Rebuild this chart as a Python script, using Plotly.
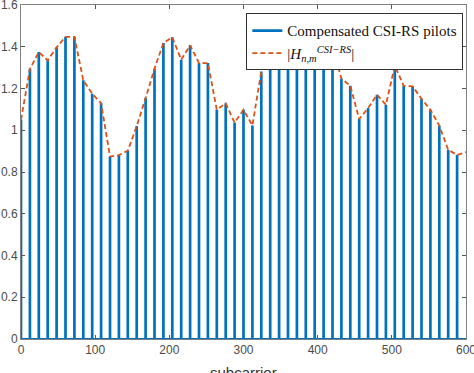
import plotly.graph_objects as go

subcarriers = list(range(0, 600, 12))
pilot_values = [1.05, 1.293, 1.375, 1.335, 1.397, 1.447, 1.447, 1.239, 1.175, 1.13,
                0.874, 0.881, 0.902, 1.02, 1.154, 1.295, 1.418, 1.445, 1.338, 1.407,
                1.322, 1.322, 1.098, 1.129, 1.037, 1.098, 1.023, 1.282, 1.375, 1.43,
                1.44, 1.43, 1.42, 1.44, 1.43, 1.40, 1.247, 1.213, 1.054, 1.106,
                1.17, 1.122, 1.309, 1.213, 1.21, 1.151, 1.098, 1.022, 0.906, 0.882]
channel_x = list(range(0, 601, 12))
channel_values = pilot_values + [0.895]

x_ticks = [0, 100, 200, 300, 400, 500, 600]
y_ticks = [0, 0.2, 0.4, 0.6, 0.8, 1, 1.2, 1.4, 1.6]
y_tick_labels = ["0", "0.2", "0.4", "0.6", "0.8", "1", "1.2", "1.4", "1.6"]

stem_x, stem_y = [], []
for xv, yv in zip(subcarriers, pilot_values):
    stem_x += [xv, xv, None]
    stem_y += [0, yv, None]

fig = go.Figure()
fig.add_trace(go.Scatter(x=stem_x, y=stem_y, mode="lines",
                         line=dict(color="#0072BD", width=2.7),
                         name="Compensated CSI-RS pilots"))
fig.add_trace(go.Scatter(x=channel_x, y=channel_values, mode="lines",
                         line=dict(color="#D95319", width=1.8, dash="5px,3px"),
                         name="|<i>H</i><sub><i>n,m</i></sub><sup><i>CSI−RS</i></sup>|"))

fig.add_shape(type="line", xref="paper", yref="y", x0=0, x1=1, y0=0, y1=0,
              line=dict(color="#0072BD", width=2.2), layer="above")

axis_common = dict(showgrid=False, zeroline=False, showline=True, linecolor="#808080",
                   linewidth=1, mirror="ticks", ticks="inside", ticklen=4,
                   tickcolor="#555555", automargin=False, ticklabeloverflow="allow",
                   tickfont=dict(family="Liberation Sans, Arial", size=12, color="#4a4a4a"))

fig.update_xaxes(range=[0, 600], tickvals=x_ticks, **axis_common)
fig.update_yaxes(range=[0, 1.6], tickvals=y_ticks, ticktext=y_tick_labels, **axis_common)

fig.add_annotation(text="subcarrier", xref="paper", yref="paper", x=0.5, y=-0.1,
                   xanchor="center", yanchor="middle", showarrow=False,
                   font=dict(family="Liberation Sans, Arial", size=15, color="#333"))

fig.update_layout(
    width=474, height=373,
    margin=dict(l=21, r=8, t=5, b=34),
    plot_bgcolor="white", paper_bgcolor="white",
    legend=dict(x=0.994, y=0.975, xanchor="right", yanchor="top",
                bgcolor="white", bordercolor="#333333", borderwidth=1,
                font=dict(family="Liberation Serif, Times New Roman", size=15, color="#111"),
                tracegroupgap=0, itemwidth=30),
    showlegend=True,
)

fig.write_html("out.html", config={"displayModeBar": False},
               post_script="document.body.style.margin='0';")
